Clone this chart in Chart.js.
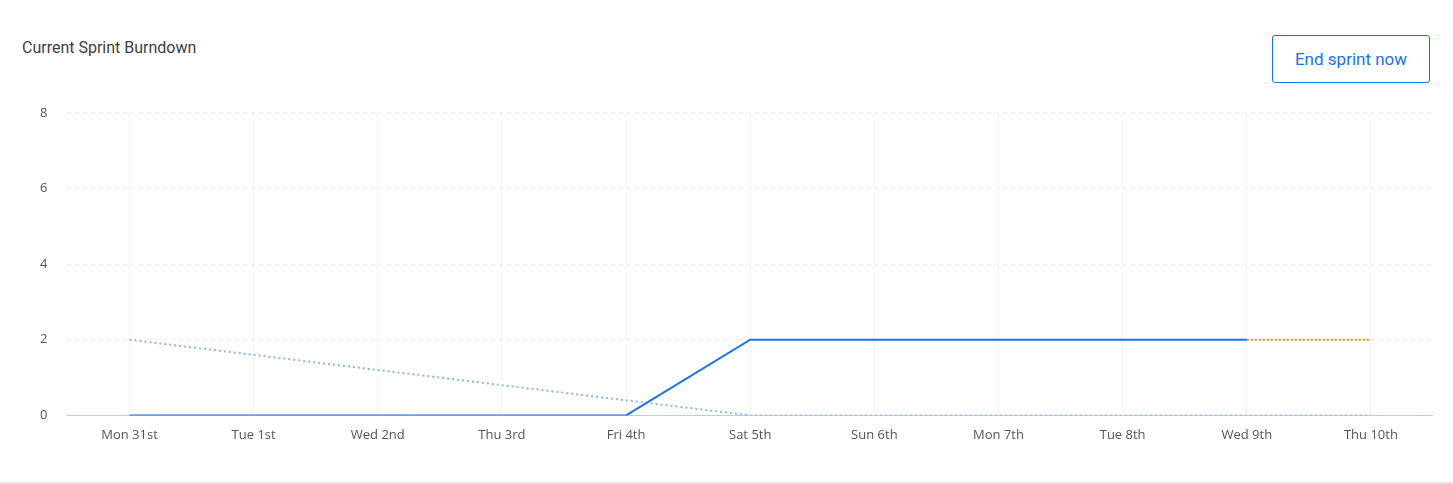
<!DOCTYPE html>
<html><head><meta charset="utf-8">
<script src="https://cdn.jsdelivr.net/npm/chart.js@4"></script>
<style>
html,body{margin:0;padding:0;background:#fff;width:1453px;height:484px;overflow:hidden;font-family:Roboto,sans-serif}
#title{position:absolute;left:22px;top:38px;font-size:16px;color:#3c4043}
#btn{position:absolute;left:1272px;top:35px;width:156px;height:46px;border:1px solid #1a73e8;border-radius:3px;color:#1a73e8;font-size:17px;display:flex;align-items:center;justify-content:center;box-sizing:border-box;width:158px;height:48px}
#wrap{position:absolute;left:20px;top:85px;width:1413px;height:370px}
#bot{position:absolute;left:0;top:482px;width:1453px;height:2px;background:#e4e4e4}
</style></head><body>
<div id="title">Current Sprint Burndown</div>
<div id="btn">End sprint now</div>
<div id="wrap"><canvas id="c"></canvas></div>
<div id="bot"></div>
<script>
const categories=["Mon 31st","Tue 1st","Wed 2nd","Thu 3rd","Fri 4th","Sat 5th","Sun 6th","Mon 7th","Tue 8th","Wed 9th","Thu 10th"];
const actual=[0,0,0,0,0,2,2,2,2,2,null];
const ideal=[2,1.6,1.2,0.8,0.4,0,0,0,0,0,0];
const projected=[null,null,null,null,null,null,null,null,null,2,2];
const yTicks=[0,2,4,6,8];
new Chart(document.getElementById('c'),{
type:'line',
data:{labels:categories,datasets:[
{data:actual,borderColor:'#1a73e8',borderWidth:2,pointRadius:0,tension:0},
{data:ideal,borderColor:'#8ab6ee',borderWidth:2,borderDash:[2,3],pointRadius:0,tension:0},
{data:projected,borderColor:'#f4891f',borderWidth:2,borderDash:[2,2],pointRadius:0,tension:0}
]},
options:{responsive:true,maintainAspectRatio:false,animation:false,
layout:{padding:{top:3,right:0,bottom:0,left:0}},
plugins:{legend:{display:false},tooltip:{enabled:false}},
scales:{
x:{offset:true,grid:{color:'#eeeeee',borderDash:[4,4],drawTicks:false,offset:false},border:{color:'#b8cdf0',width:1,dash:[4,4]},
 ticks:{color:'#555',font:{family:'"Open Sans"',size:13},padding:12,maxRotation:0}},
y:{min:0,max:8,afterBuildTicks:a=>{a.ticks=yTicks.map(v=>({value:v}))},grid:{color:'#eeeeee',drawTicks:false},border:{display:false,dash:[4,4]},
 ticks:{color:'#555',font:{family:'"Open Sans"',size:13},padding:20}}
}}});
</script></body></html>
